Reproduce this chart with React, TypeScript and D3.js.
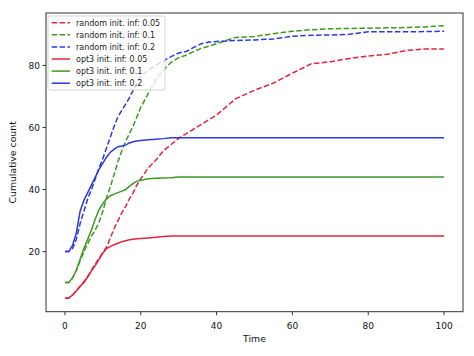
import React from "react";
import * as d3 from "d3";

const times = [0,1,2,3,4,5,6,7,8,9,10,11,12,13,14,15,16,17,18,19,20,22,24,26,28,30,32,34,36,38,40,45,50,55,60,65,70,75,80,85,90,95,100];

const randomInf005 = [5,5,6,7.3,8.8,10.3,12,14,16,17.8,19.8,21.5,24.5,27.5,30,32.5,34.5,37,39,41.5,43.5,47,49.5,52.5,54.5,56.5,58,59.5,61,62.5,64,69.2,72,74.3,77.5,80.5,81.2,82.2,83,83.6,84.8,85.3,85.3];
const randomInf01 = [10,10,11.5,14,17,20,22.5,25,27,29.5,33,37.5,41,45,49,52.5,55.5,58,60.5,63.5,66.5,71,75.5,78.5,81,82.5,83.3,84.5,85.5,86.2,87,89,89.3,90.2,91,91.5,91.8,91.9,92,92.1,92.2,92.4,92.8];
const randomInf02 = [20,20,21,24,29,33,37,40,43.5,47,50,53.5,57,60.5,63.5,65.5,67.5,69.5,72,74,76.5,78.5,80,81.5,82.8,84,84.5,85.8,87,87.5,87.7,88,88.2,88.5,89.4,89.7,89.8,90,90.8,90.8,90.8,90.9,91];
const opt3Inf005 = [5,5,6,7.3,8.8,10,11.8,13.8,15.5,17.5,19.5,21,21.7,22.2,22.7,23.2,23.5,23.8,24,24.1,24.2,24.4,24.6,24.9,25,25,25,25,25,25,25,25,25,25,25,25,25,25,25,25,25,25,25];
const opt3Inf01 = [10,10,11.5,14,17.5,21,24,27,30.5,33.5,35.5,37,38,38.5,39,39.5,40,41,42,42.7,43,43.5,43.6,43.7,43.8,44,44,44,44,44,44,44,44,44,44,44,44,44,44,44,44,44,44];
const opt3Inf02 = [20,20,22,26,33,36.5,39,41.5,44,46.5,48.5,50.5,52,53,53.8,54,54.3,55,55.4,55.6,55.8,56,56.2,56.4,56.7,56.7,56.7,56.7,56.7,56.7,56.7,56.7,56.7,56.7,56.7,56.7,56.7,56.7,56.7,56.7,56.7,56.7,56.7];

const seriesLabels = [
  "random init. inf: 0.05",
  "random init. inf: 0.1",
  "random init. inf: 0.2",
  "opt3 init. inf: 0.05",
  "opt3 init. inf: 0.1",
  "opt3 init. inf: 0.2",
];
const seriesValues = [randomInf005, randomInf01, randomInf02, opt3Inf005, opt3Inf01, opt3Inf02];
const seriesDashed = [true, true, true, false, false, false];

const xTicks = [0, 20, 40, 60, 80, 100];
const yTicks = [20, 40, 60, 80];

const RED = "#e2243c";
const GREEN = "#3c9a1e";
const BLUE = "#2a3ae0";
const seriesColors = [RED, GREEN, BLUE, RED, GREEN, BLUE];

const W = 474, H = 356;
const L = 46, R = 463, T = 13, B = 311.7;
const FONT = "DejaVu Sans, sans-serif";

export default function App() {
  const x = d3.scaleLinear().domain([-5, 105]).range([L, R]);
  const y = d3.scaleLinear().domain([0.63, 96.88]).range([B, T]);
  const line = d3.line<number>().x((_, i) => x(times[i])).y((v) => y(v));

  return (
    <svg width={W} height={H} style={{ position: "absolute", left: 0, top: 0, background: "#fff" }} fontFamily={FONT}>
      <rect x={0} y={0} width={W} height={H} fill="#fff" />
      <defs>
        <clipPath id="plot">
          <rect x={L} y={T} width={R - L} height={B - T} />
        </clipPath>
      </defs>
      <g clipPath="url(#plot)">
        {seriesValues.map((vals, i) => (
          <path
            key={i}
            d={line(vals) || ""}
            fill="none"
            stroke={seriesColors[i]}
            strokeWidth={1.5}
            strokeDasharray={seriesDashed[i] ? "5.5 2.4" : undefined}
          />
        ))}
      </g>
      <rect x={L} y={T} width={R - L} height={B - T} fill="none" stroke="#333" strokeWidth={1} />
      {xTicks.map((t) => (
        <g key={"x" + t}>
          <line x1={x(t)} x2={x(t)} y1={B} y2={B + 3.5} stroke="#333" />
          <text x={x(t)} y={328.5} textAnchor="middle" fontSize={9} fill="#111">{t}</text>
        </g>
      ))}
      {yTicks.map((t) => (
        <g key={"y" + t}>
          <line x1={L - 3.5} x2={L} y1={y(t)} y2={y(t)} stroke="#333" />
          <text x={40} y={y(t)} dy="0.35em" textAnchor="end" fontSize={9} fill="#111">{t}</text>
        </g>
      ))}
      <text x={(L + R) / 2} y={342} textAnchor="middle" fontSize={9.3} fill="#111">Time</text>
      <text transform={`translate(16,${(T + B) / 2}) rotate(-90)`} textAnchor="middle" fontSize={9.3} fill="#111">Cumulative count</text>
      <g>
        <rect x={48} y={16} width={117} height={74} fill="#fff" fillOpacity={0.8} stroke="#ccc" strokeWidth={0.8} rx={2} />
        {seriesLabels.map((lab, i) => {
          const yy = 22.7 + i * 12.1;
          return (
            <g key={lab}>
              <line x1={51.7} x2={70} y1={yy} y2={yy} stroke={seriesColors[i]} strokeWidth={1.5}
                strokeDasharray={seriesDashed[i] ? "5.5 2.4" : undefined} />
              <text x={76} y={yy} dy="0.35em" fontSize={8} fill="#222">{lab}</text>
            </g>
          );
        })}
      </g>
    </svg>
  );
}
